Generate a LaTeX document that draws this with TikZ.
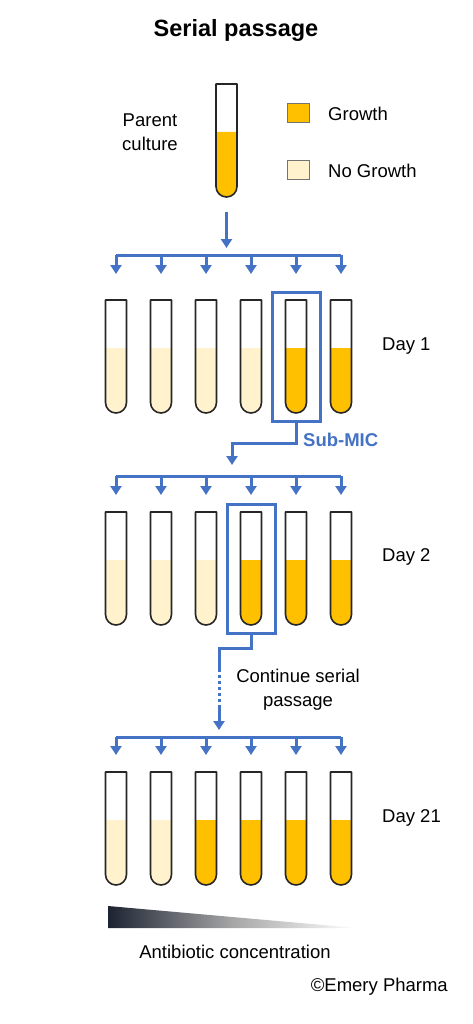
\documentclass[tikz,border=0pt]{standalone}
\usepackage{fontspec}
\setmainfont{Liberation Sans}
\usetikzlibrary{arrows.meta,positioning,calc,fit}

\definecolor{growth}{HTML}{FFC000}
\definecolor{nogrowth}{HTML}{FFF2CC}
\definecolor{flowblue}{HTML}{4472C4}
\definecolor{tubeink}{HTML}{262626}
\definecolor{wedgeink}{HTML}{1C2331}

\tikzset{
	tubenode/.style={draw=none,rectangle,minimum width=21pt,minimum height=113pt,inner sep=0pt,outer sep=0pt},
	flowline/.style={draw=flowblue,line width=3pt},
	flow/.style={flowline,-{Triangle[width=11pt,length=9pt]}},
	selbox/.style={draw=flowblue,line width=3pt,rectangle,inner xsep=13.5pt,inner ysep=8pt},
	txt/.style={font=\fontsize{18.5}{24}\selectfont,align=center,inner sep=0pt},
	keybox/.style={draw=black!55,line width=1pt,minimum width=22pt,minimum height=19pt,inner sep=0pt}
}

% tube: name, x, centre y, fill colour
\newcommand{\tube}[4]{%
	\node[tubenode] (#1) at (#2,#3) {};
	\fill[#4] ($(#1.north west)+(0,-48)$) -- ($(#1.south west)+(0,10.5)$) arc[start angle=180,end angle=360,radius=10.5pt] -- ($(#1.north east)+(0,-48)$) -- cycle;
	\draw[tubeink,line width=1.6pt,line join=round] (#1.north west) -- ($(#1.south west)+(0,10.5)$) arc[start angle=180,end angle=360,radius=10.5pt] -- (#1.north east) -- cycle;
}

\begin{document}
\begin{tikzpicture}[x=1pt,y=1pt]
		\useasboundingbox (0,0) rectangle (473,-1024);
		\node[font=\fontsize{23.5}{27}\selectfont\bfseries,inner sep=0pt] (title) at (236,-30) {Serial passage};
		% parent and key
		\tube{par}{226.5}{-140.5}{growth}
		\node[txt] (partxt) at (150,-132) {Parent\\culture};
		\node[keybox,fill=growth] (kg) at (298,-113.5) {};
		\node[keybox,fill=nogrowth] (kn) at (298,-170.5) {};
		\node[txt,anchor=west] (kgt) at (328,-113.5) {Growth};
		\node[txt,anchor=west] (knt) at (328,-171) {No Growth};
		% day 1
		\coordinate (bar1) at (226.5,-255);
		\coordinate (bar1l) at (116,-255);
		\coordinate (bar1r) at (341,-255);
		\tube{da1}{116}{-356.5}{nogrowth}
		\tube{db1}{161}{-356.5}{nogrowth}
		\tube{dc1}{206}{-356.5}{nogrowth}
		\tube{dd1}{251}{-356.5}{nogrowth}
		\tube{de1}{296}{-356.5}{growth}
		\tube{df1}{341}{-356.5}{growth}
		\node[txt,anchor=west] (day1) at (382,-346) {Day 1};
		\node[selbox,fit=(de1)] (sel1) {};
		\draw[flow,shorten <=15pt,shorten >=7pt] (par.south) -- (bar1);
		\draw[flowline] (bar1l) -- (bar1r);
		\draw[flow,shorten >=26pt] (da1.north |- bar1) -- (da1.north);
		\draw[flow,shorten >=26pt] (db1.north |- bar1) -- (db1.north);
		\draw[flow,shorten >=26pt] (dc1.north |- bar1) -- (dc1.north);
		\draw[flow,shorten >=26pt] (dd1.north |- bar1) -- (dd1.north);
		\draw[flow,shorten >=26pt] (de1.north |- bar1) -- (de1.north);
		\draw[flow,shorten >=26pt] (df1.north |- bar1) -- (df1.north);
		% day 2
		\coordinate (turn1) at (232,-443);
		\coordinate (bar2) at (232,-476);
		\coordinate (bar2l) at (116,-476);
		\coordinate (bar2r) at (341,-476);
		\tube{da2}{116}{-568.5}{nogrowth}
		\tube{db2}{161}{-568.5}{nogrowth}
		\tube{dc2}{206}{-568.5}{nogrowth}
		\tube{dd2}{251}{-568.5}{growth}
		\tube{de2}{296}{-568.5}{growth}
		\tube{df2}{341}{-568.5}{growth}
		\node[txt,anchor=west] (day2) at (382,-557) {Day 2};
		\node[selbox,fit=(dd2)] (sel2) {};
		\node[font=\fontsize{18.5}{22}\selectfont\bfseries,text=flowblue,anchor=west,inner sep=0pt] (submic) at (303,-440) {Sub-MIC};
		\draw[flow,shorten >=11pt] (sel1.south) |- (turn1) -- (bar2);
		\draw[flowline] (bar2l) -- (bar2r);
		\draw[flow,shorten >=17pt] (da2.north |- bar2) -- (da2.north);
		\draw[flow,shorten >=17pt] (db2.north |- bar2) -- (db2.north);
		\draw[flow,shorten >=17pt] (dc2.north |- bar2) -- (dc2.north);
		\draw[flow,shorten >=17pt] (dd2.north |- bar2) -- (dd2.north);
		\draw[flow,shorten >=17pt] (de2.north |- bar2) -- (de2.north);
		\draw[flow,shorten >=17pt] (df2.north |- bar2) -- (df2.north);
		% day 21
		\coordinate (turn2) at (219,-648);
		\coordinate (dots1) at (219,-669);
		\coordinate (dots2) at (219,-705);
		\coordinate (bar3) at (219,-737);
		\coordinate (bar3l) at (116,-737);
		\coordinate (bar3r) at (341,-737);
		\tube{da3}{116}{-828.5}{nogrowth}
		\tube{db3}{161}{-828.5}{nogrowth}
		\tube{dc3}{206}{-828.5}{growth}
		\tube{dd3}{251}{-828.5}{growth}
		\tube{de3}{296}{-828.5}{growth}
		\tube{df3}{341}{-828.5}{growth}
		\node[txt,anchor=west] (day3) at (382,-818) {Day 21};
		\node[txt] (cont) at (298,-690) {Continue serial\\passage};
		\draw[flowline] (sel2.south) |- (turn2) -- (dots1);
		\draw[flowline,dash pattern=on 3pt off 3pt] (dots1) -- (dots2);
		\draw[flow,shorten >=7pt] (dots2) -- (bar3);
		\draw[flowline] (bar3l) -- (bar3r);
		\draw[flow,shorten >=17pt] (da3.north |- bar3) -- (da3.north);
		\draw[flow,shorten >=17pt] (db3.north |- bar3) -- (db3.north);
		\draw[flow,shorten >=17pt] (dc3.north |- bar3) -- (dc3.north);
		\draw[flow,shorten >=17pt] (dd3.north |- bar3) -- (dd3.north);
		\draw[flow,shorten >=17pt] (de3.north |- bar3) -- (de3.north);
		\draw[flow,shorten >=17pt] (df3.north |- bar3) -- (df3.north);
		% concentration wedge
		\shade[left color=wedgeink,right color=white,middle color=black!35] (108,-906) -- (357,-928) -- (108,-928) -- cycle;
		\node[txt] (conc) at (235,-952) {Antibiotic concentration};
		\node[txt,anchor=east] (credit) at (448,-987) {©Emery Pharma};
\end{tikzpicture}
\end{document}
